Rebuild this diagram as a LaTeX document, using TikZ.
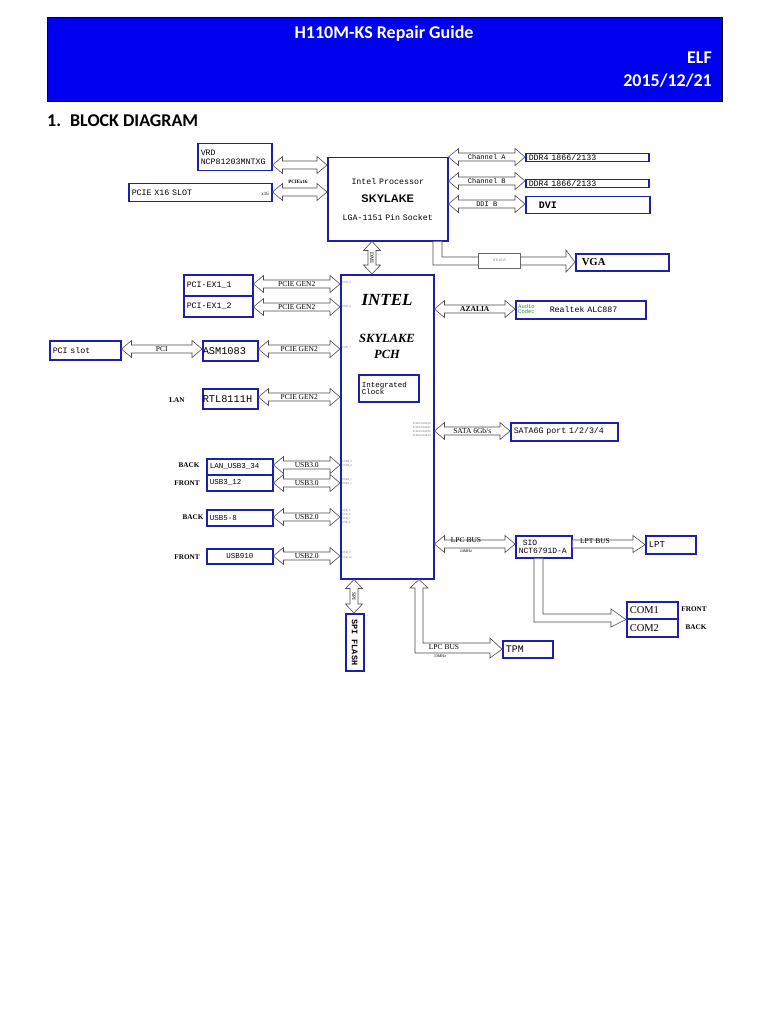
\documentclass[tikz,border=0pt]{standalone}
\usepackage{fontspec}
\setmainfont{Carlito}
\newfontfamily\monof{Liberation Mono}
\newfontfamily\serf{Liberation Serif}
\newfontfamily\sanf{Liberation Sans}
\usetikzlibrary{calc}
\definecolor{hdrblue}{RGB}{0,0,240}
\definecolor{boxblue}{RGB}{30,30,175}
\definecolor{codecgreen}{RGB}{40,150,40}
\newcommand\fs[1]{\fontsize{#1}{#1}\selectfont}
\tikzset{
  box/.style={draw=boxblue, line width=1.5pt, fill=white, anchor=north west, inner xsep=3pt, inner ysep=0pt, align=left, font=\monof\fs{8.3}},
  dbl/.style={draw=black!70, line width=0.6pt, fill=white},
  albl/.style={font=\serf\fs{7.5}, inner sep=0pt},
  tinyl/.style={font=\serf\fs{4}, inner sep=0pt},
  side/.style={font=\serf\bfseries\fs{7.2}, inner sep=0pt},
  htxt/.style={font=\bfseries\fs{18}, text=white, inner sep=0pt},
  pchtxt/.style={font=\serf\bfseries\itshape\fs{12.5}, inner sep=0pt},
  chip/.style={draw=black!60, line width=0.5pt, fill=white, anchor=north west, minimum width=42pt, minimum height=15pt, inner sep=0pt, font=\serf\fs{3.5}, text=black!60},
  pin/.style={font=\serf\fs{2.8}, text=black!60, inner sep=0pt}
}
% double block arrow, left to right, at height #3
\newcommand\harr[4]{%
  \draw[dbl] let \p1=(#1.east |- 0,#3), \p2=(#2.west |- 0,#3) in
    (\x1,\y1) -- (\x1+10,\y1+8.5) -- (\x1+10,\y1+4) -- (\x2-10,\y1+4) -- (\x2-10,\y1+8.5) -- (\x2,\y1)
    -- (\x2-10,\y1-8.5) -- (\x2-10,\y1-4) -- (\x1+10,\y1-4) -- (\x1+10,\y1-8.5) -- cycle
    (0.5*\x1+0.5*\x2,\y1) node[albl] {#4};}
% double block arrow, top to bottom, at x #3
\newcommand\varr[4]{%
  \draw[dbl] let \p1=(#1.south -| #3,0), \p2=(#2.north -| #3,0) in
    (\x1,\y1) -- (\x1+8.5,\y1-9) -- (\x1+4,\y1-9) -- (\x1+4,\y2+9) -- (\x1+8.5,\y2+9) -- (\x1,\y2)
    -- (\x1-8.5,\y2+9) -- (\x1-4,\y2+9) -- (\x1-4,\y1-9) -- (\x1-8.5,\y1-9) -- cycle
    (\x1,0.5*\y1+0.5*\y2) node[albl, font=\serf\fs{5.5}, rotate=-90] {#4};}
\begin{document}
\begin{tikzpicture}[x=1pt,y=-1pt]
\useasboundingbox (0,0) rectangle (768,1024);
% header
\node[draw=black, line width=0.8pt, fill=hdrblue, minimum width=675pt, minimum height=84pt, anchor=north west, inner sep=0pt] (hdr) at (47,17) {};
\node[htxt] (title) at (384,34) {H110M-KS Repair Guide};
\node[htxt, anchor=east] (elf) at (712,58) {ELF};
\node[htxt, anchor=east] (date) at (712,81) {2015/12/21};
\node[font=\bfseries\fs{18}, anchor=west, inner sep=0pt] (sec) at (47,121) {1.\hspace{9pt}BLOCK DIAGRAM};

% processor and its links
\node[box, text width=68pt, minimum height=27pt] (vrd) at (197,143) {VRD\\NCP81203MNTXG};
\node[box, text width=137pt, minimum height=18pt] (slot) at (128,183) {PCIE X16 SLOT\hfill{\serf\fs{5}x16}\hspace*{22pt}};
\node[box, align=center, text width=114pt, minimum height=83pt, font=\monof\fontsize{8.3}{13}\selectfont] (cpu) at (327,157) {Intel Processor\\[5pt]{\sanf\bfseries\fs{11}SKYLAKE}\\[5pt]LGA-1151 Pin Socket};
\node[box, text width=117pt, minimum height=8pt, text height=6pt, text depth=1pt] (ddra) at (525,153) {DDR4 1866/2133};
\node[box, text width=117pt, minimum height=8pt, text height=6pt, text depth=1pt] (ddrb) at (525,179) {DDR4 1866/2133};
\node[box, text width=118pt, minimum height=17pt, font=\monof\bfseries\fs{10}] (dvi) at (525,196) {\hspace*{10pt}DVI};
\node[box, text width=87pt, minimum height=17pt, font=\serf\bfseries\fs{10.7}] (vga) at (575,253) {\hspace*{3pt}VGA};

% pch
\node[box, minimum width=93pt, minimum height=304pt] (pch) at (340,274) {};
\node[pchtxt, font=\serf\bfseries\itshape\fs{17}] (intel) at (387,300) {INTEL};
\node[pchtxt] (sky) at (387,338) {SKYLAKE};
\node[pchtxt] (pchname) at (387,354) {PCH};
\node[box, text width=54pt, minimum height=27pt, font=\monof\fs{7.5}] (clk) at (358,374) {Integrated\\Clock};

% left side devices
\node[box, text width=63pt, minimum height=21pt] (ex1) at (183,274) {PCI-EX1\_1};
\node[box, text width=63pt, minimum height=21pt] (ex2) at (183,295) {PCI-EX1\_2};
\node[box, text width=65pt, minimum height=19pt] (pcislot) at (49,340) {PCI slot};
\node[box, text width=55pt, minimum height=20pt, inner xsep=0pt, font=\monof\fs{10.3}] (asm) at (202,340) {ASM1083};
\node[box, text width=55pt, minimum height=20pt, inner xsep=0pt, font=\monof\fs{10.3}] (rtl) at (202,388) {RTL8111H};
\node[box, text width=60pt, minimum height=16pt, font=\monof\fs{7.5}] (lanusb) at (206,458) {LAN\_USB3\_34};
\node[box, text width=60pt, minimum height=16pt, font=\monof\fs{7.5}] (usb12) at (206,474) {USB3\_12};
\node[box, text width=60pt, minimum height=16pt, font=\monof\fs{7.5}] (usb58) at (206,509) {USB5-8};
\node[box, text width=60pt, minimum height=15pt, align=center, font=\monof\fs{7.5}] (usb910) at (206,548) {USB910};
\node[side] (lanlbl) at (177,400) {LAN};
\node[side] (back1) at (189,465) {BACK};
\node[side] (front1) at (187,483) {FRONT};
\node[side] (back2) at (193,517) {BACK};
\node[side] (front2) at (187,557) {FRONT};

% right side devices
\node[box, text width=124pt, minimum height=18pt] (codec) at (515,300) {\hspace*{31pt}Realtek ALC887};
\node[font=\monof\fs{5.5}, text=codecgreen, align=left, anchor=west, inner sep=0pt] (codeclbl) at (518,309) {Audio\\Codec};
\node[box, text width=101pt, minimum height=18pt] (sata) at (510,422) {SATA6G port 1/2/3/4};
\node[box, text width=50pt, minimum height=22pt, font=\monof\fs{8}] (sio) at (515,535) {\hspace*{4pt}SIO\\NCT6791D-A};
\node[box, text width=44pt, minimum height=18pt, font=\monof\fs{9}] (lpt) at (645,535) {LPT};
\node[box, text width=45pt, minimum height=17pt, font=\serf\fs{10.5}] (com1) at (626,601) {COM1};
\node[box, text width=45pt, minimum height=18pt, font=\serf\fs{10.5}] (com2) at (626,618) {COM2};
\node[side] (front3) at (694,609) {FRONT};
\node[side] (back3) at (696,627) {BACK};
\node[box, text width=44pt, minimum height=17pt, font=\monof\fs{10}] (tpm) at (502,640) {TPM};
\node[box, minimum width=18pt, minimum height=57pt, inner sep=0pt] (flash) at (345,613) {};
\node[font=\monof\bfseries\fs{8.5}, rotate=-90, inner sep=0pt] (flashtxt) at (flash.center) {SPI FLASH};

% links
\harr{vrd}{cpu}{165}{}
\harr{slot}{cpu}{192}{}
\node[albl, font=\serf\bfseries\fs{5}] (pcielbl) at (298,182) {PCIEx16};
\harr{cpu}{ddra}{157}{\monof\fs{7}Channel A}
\harr{cpu}{ddrb}{181}{\monof\fs{7}Channel B}
\harr{cpu}{dvi}{204}{\monof\fs{7}DDI B}
\varr{cpu}{pch}{372}{DMI}
\draw[dbl] (cpu.south -| 442,0) |- (566,257) -- (566,250) -- (vga.west) -- (566,272) -- (566,265) -| (cpu.south -| 433,0);
\node[chip] (ite) at (478,253) {ITE 6515};
\harr{ex1}{pch}{284}{PCIE GEN2}
\harr{ex2}{pch}{307}{PCIE GEN2}
\harr{pcislot}{asm}{349}{PCI}
\harr{asm}{pch}{349}{PCIE GEN2}
\harr{rtl}{pch}{397}{PCIE GEN2}
\harr{lanusb}{pch}{465}{USB3.0}
\harr{usb12}{pch}{483}{USB3.0}
\harr{usb58}{pch}{517}{USB2.0}
\harr{usb910}{pch}{556}{USB2.0}
\harr{pch}{codec}{309}{\bfseries AZALIA}
\harr{pch}{sata}{431}{SATA 6Gb/s}
\harr{pch}{sio}{544}{}
\node[albl] (lpclbl) at (466,540) {LPC BUS};
\node[tinyl] (lpcclk) at (466,551) {24MHz};
\draw[dbl] (sio.east |- 0,540) -- (633,540) -- (633,535.5) -- (lpt.west) -- (633,552.5) -- (633,548) -- (sio.east |- 0,548);
\node[albl] (lptlbl) at (595,541) {LPT BUS};
\varr{pch}{flash}{354}{SPI}
\draw[dbl] (sio.south -| 543,0) |- (611,614) -- (611,609) -- (com1.south west) -- (611,627) -- (611,622) -| (sio.south -| 534,0);
\draw[dbl] (pch.south -| 419,0) -- (428,588) -- (423,588) |- (490,643) -- (490,638) -- (tpm.west) -- (490,658) -- (490,653) -| (415,588) -- (410,588) -- cycle;
\node[albl] (tpmlbl) at (444,647) {LPC BUS};
\node[tinyl] (tpmclk) at (440,656) {33MHz};

% pin names on the pch
\foreach \py/\t in {283/PCIE\_5,307/PCIE\_6,348/PCIE\_7,462/USB3\_3,466/USB3\_4,480/USB3\_1,484/USB3\_2,511/USB\_5,515/USB\_6,519/USB\_7,523/USB\_8,553/USB\_9,558/USB\_10}
  \node[pin, anchor=west] (pinl\py) at (342,\py) {\t};
\foreach \py/\t in {424/{PCIE13/SATA0},428/{PCIE14/SATA1},432/{PCIE15/SATA2},436/{PCIE16/SATA3}}
  \node[pin, anchor=east] (pinr\py) at (431,\py) {\t};
\end{tikzpicture}
\end{document}
